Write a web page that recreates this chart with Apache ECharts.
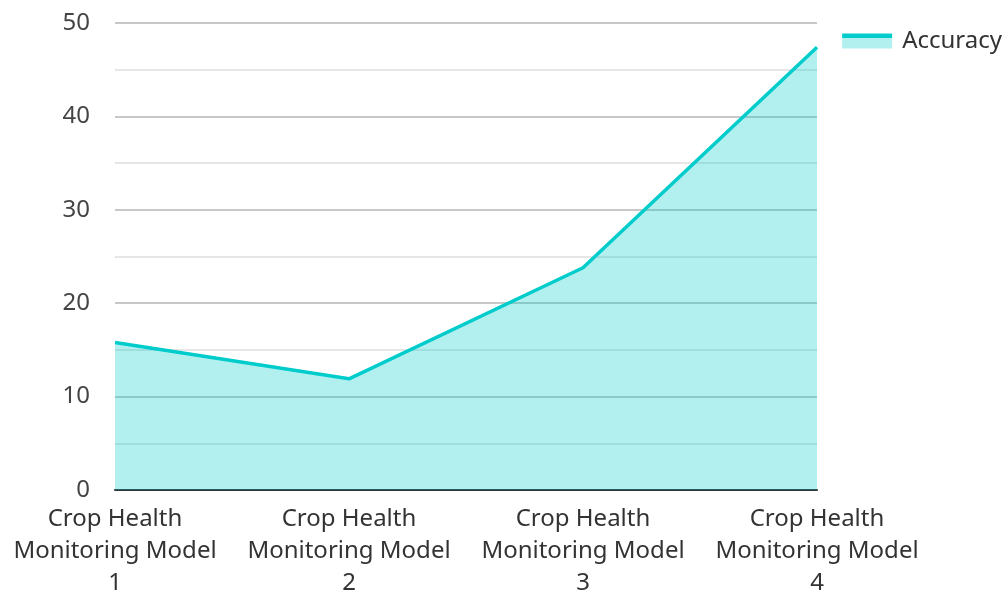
<!DOCTYPE html>
<html>
<head>
<meta charset="utf-8">
<script src="https://cdn.jsdelivr.net/npm/echarts@6/dist/echarts.min.js"></script>
<style>
  html, body { margin: 0; padding: 0; background: #fff; }
  #chart { width: 1007px; height: 594px; }
</style>
</head>
<body>
<div id="chart"></div>
<script>
const categories = [
  "Crop Health Monitoring Model 1",
  "Crop Health Monitoring Model 2",
  "Crop Health Monitoring Model 3",
  "Crop Health Monitoring Model 4"
];
const accuracy = [15.8, 11.9, 23.8, 47.4];
const yTicks = [0, 10, 20, 30, 40, 50];

const chart = echarts.init(document.getElementById("chart"));
chart.setOption({
  animation: false,
  textStyle: { fontFamily: "Noto Sans" },
  legend: {
    data: ["Accuracy"],
    right: 0,
    top: 24,
    itemWidth: 50,
    itemHeight: 15,
    itemGap: 10,
    textStyle: { fontSize: 24, color: "#333", padding: [0, 0, 0, 5] },
    itemStyle: {
      // line on top, light area below, like the series itself
      color: {
        type: "linear", x: 0, y: 0, x2: 0, y2: 1,
        colorStops: [
          { offset: 0, color: "#00cccc" },
          { offset: 0.27, color: "#00cccc" },
          { offset: 0.27, color: "#b2f0f0" },
          { offset: 1, color: "#b2f0f0" }
        ]
      }
    },
    icon: "rect"
  },
  grid: { left: 115, right: 190, top: 23, bottom: 104, outerBoundsMode: "none", containLabel: false },
  xAxis: {
    type: "category",
    boundaryGap: false,
    data: categories,
    axisLine: { lineStyle: { color: "#333", width: 2 } },
    axisTick: { show: false },
    axisLabel: {
      interval: 0,
      fontSize: 24,
      color: "#333",
      lineHeight: 32,
      margin: 13,
      formatter: v => v.replace(" Monitoring", "\nMonitoring").replace(/ (\d+)$/, "\n$1")
    }
  },
  yAxis: {
    type: "value",
    min: yTicks[0],
    max: yTicks[yTicks.length - 1],
    interval: 10,
    axisLine: { show: false },
    axisTick: { show: false },
    axisLabel: { fontSize: 24, color: "#444", margin: 25 },
    splitLine: { lineStyle: { color: "#c8c8c8", width: 2 } },
    minorTick: { show: false, splitNumber: 2 },
    minorSplitLine: { show: true, lineStyle: { color: "#e6e6e6", width: 2 } }
  },
  series: [{
    name: "Accuracy",
    type: "line",
    data: accuracy,
    symbol: "none",
    lineStyle: { color: "#00cccc", width: 3.5 },
    itemStyle: { color: "#00cccc" },
    areaStyle: { color: "#00cccc", opacity: 0.3 }
  }]
});
</script>
</body>
</html>
